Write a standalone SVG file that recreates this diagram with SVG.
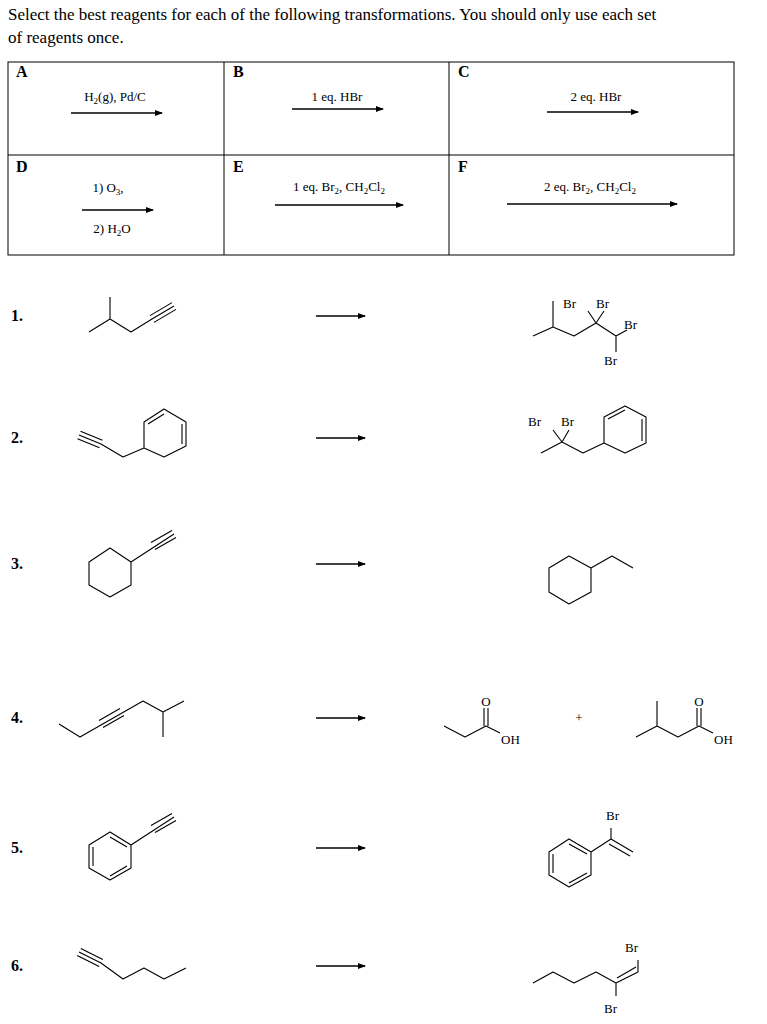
<svg xmlns="http://www.w3.org/2000/svg" width="767" height="1024" viewBox="0 0 767 1024">
<defs>
<marker id="ah" markerWidth="8" markerHeight="6" refX="7" refY="3" orient="auto" markerUnits="userSpaceOnUse"><path d="M0,0 L8,3 L0,6 z" fill="#000"/></marker>
</defs>
<style>
text{font-family:"Liberation Serif","DejaVu Serif",serif;fill:#000}
.h{font-size:17px}
.l{font-size:16px;font-weight:bold}
.r{font-size:13px}
.a{font-size:13px}
.b{stroke:#000;stroke-width:1.1;fill:none;stroke-linejoin:round}
.ar{stroke:#000;stroke-width:1.3;marker-end:url(#ah)}
</style>
<rect width="767" height="1024" fill="#fff"/>
<text class="h" x="8" y="20">Select the best reagents for each of the following transformations. You should only use each set</text>
<text class="h" x="8" y="43">of reagents once.</text>
<g id="table">
<rect x="8" y="62" width="726" height="193" fill="none" stroke="#000" stroke-width="1"/>
<path d="M8 155H734M224 62V255M449 62V255" stroke="#000" stroke-width="1" fill="none"/>
<text class="l" x="16" y="77">A</text><text class="l" x="233" y="77">B</text><text class="l" x="458" y="77">C</text>
<text class="l" x="16" y="172">D</text><text class="l" x="233" y="172">E</text><text class="l" x="458" y="172">F</text>
<text class="r" x="115" y="101" text-anchor="middle">H<tspan font-size="9" dy="3">2</tspan><tspan dy="-3">(g), Pd/C</tspan></text>
<text class="r" x="337" y="101" text-anchor="middle">1 eq. HBr</text>
<text class="r" x="596" y="101" text-anchor="middle">2 eq. HBr</text>
<text class="r" x="108" y="192" text-anchor="middle">1) O<tspan font-size="9" dy="3">3</tspan><tspan dy="-3">,</tspan></text>
<text class="r" x="112" y="233" text-anchor="middle">2) H<tspan font-size="9" dy="3">2</tspan><tspan dy="-3">O</tspan></text>
<text class="r" x="339" y="191" text-anchor="middle">1 eq. Br<tspan font-size="9" dy="3">2</tspan><tspan dy="-3">, CH</tspan><tspan font-size="9" dy="3">2</tspan><tspan dy="-3">Cl</tspan><tspan font-size="9" dy="3">2</tspan></text>
<text class="r" x="590" y="191" text-anchor="middle">2 eq. Br<tspan font-size="9" dy="3">2</tspan><tspan dy="-3">, CH</tspan><tspan font-size="9" dy="3">2</tspan><tspan dy="-3">Cl</tspan><tspan font-size="9" dy="3">2</tspan></text>
</g>
<g id="connectors">
<line class="ar" x1="71" y1="113" x2="162" y2="113"/>
<line class="ar" x1="292" y1="109" x2="383" y2="109"/>
<line class="ar" x1="547" y1="112" x2="638" y2="112"/>
<line class="ar" x1="82" y1="210" x2="153" y2="210"/>
<line class="ar" x1="275" y1="205" x2="403" y2="205"/>
<line class="ar" x1="507" y1="204" x2="677" y2="204"/>
<line class="ar" x1="316" y1="316" x2="365" y2="316"/>
<line class="ar" x1="316" y1="438" x2="365" y2="438"/>
<line class="ar" x1="316" y1="564" x2="365" y2="564"/>
<line class="ar" x1="316" y1="718" x2="365" y2="718"/>
<line class="ar" x1="316" y1="848" x2="365" y2="848"/>
<line class="ar" x1="316" y1="966" x2="365" y2="966"/>
</g>
<g id="numbers">
<text class="l" x="11" y="321" font-size="14">1.</text>
<text class="l" x="11" y="443" font-size="14">2.</text>
<text class="l" x="11" y="569" font-size="14">3.</text>
<text class="l" x="11" y="723" font-size="14">4.</text>
<text class="l" x="11" y="853" font-size="14">5.</text>
<text class="l" x="11" y="971" font-size="14">6.</text>
</g>
<g id="m1">
<path class="b" d="M89 332L110 319L131 332L152 319L174 306M110 319V297M154 322.4L176 309.4M150 315.6L172 302.6"/>
</g>
<g id="p1">
<path class="b" d="M533 336L553 327L574 336L596 323L616 336V352M553 327V301M596 323L588 311M596 323L604 311M616 336L627 330"/>
<text class="a" x="563" y="308">Br</text><text class="a" x="596" y="308">Br</text>
<text class="a" x="624" y="329">Br</text><text class="a" x="604" y="365">Br</text>
</g>
<g id="m2">
<path class="b" d="M79 435L101 444L123 457L144 448V422L164 409L186 422V446L164 457L144 448M77.5 438.7L99.5 447.7M80.5 431.3L102.5 440.3M148 424L164 414M182 424V444"/>
</g>
<g id="p2">
<path class="b" d="M541 453L562 442L583 453L604 443V417L625 406L646 417V443L625 453L604 443M562 442L553 430M562 442L569 430M608 419L625 410M642 419V441"/>
<text class="a" x="528" y="426">Br</text><text class="a" x="561" y="426">Br</text>
</g>
<g id="m3">
<path class="b" d="M89 562L110 548L131 562V585L110 597L89 585Z M131 562L174 534M155 549.4L176 537.4M151 542.6L172 530.6"/>
</g>
<g id="p3">
<path class="b" d="M549 568L569 556L591 568V592L569 604L549 592Z M591 568L612 556L633 568"/>
</g>
<g id="m4">
<path class="b" d="M59 724L80 737L143 701L163 712V737M163 712L184 701M103 727.5L124 715.5M99 720.5L120 708.5"/>
</g>
<g id="p4a">
<path class="b" d="M444 726L465 737L486 726L500 733M484 726V708M488 726V708"/>
<text class="a" x="486" y="706" text-anchor="middle">O</text>
<text class="a" x="501" y="744">OH</text>
</g>
<text class="a" x="579" y="722" text-anchor="middle" fill="#888">+</text>
<g id="p4b">
<path class="b" d="M636 737L657 726L678 737L699 726L713 733M657 726V701M697 726V708M701 726V708"/>
<text class="a" x="699" y="706" text-anchor="middle">O</text>
<text class="a" x="714" y="744">OH</text>
</g>
<g id="m5">
<path class="b" d="M89 845L110 832L131 845V868L110 880L89 868Z M93 847V866M110 837L127 847M127 866L110 876M131 845L174 817M155 832.4L176 820.4M151 825.6L172 813.6"/>
</g>
<g id="p5">
<path class="b" d="M549 852L569 839L591 852V875L569 887L549 875Z M553 854V873M569 844L587 854M587 873L569 883M591 852L611 839L633 852M611 839V828M609 844L630 856"/>
<text class="a" x="606" y="820">Br</text>
</g>
<g id="m6">
<path class="b" d="M79 952L101 963L123 979L144 968L164 979L186 968M77.2 955.6L99.2 966.6M80.8 948.4L102.8 959.4"/>
</g>
<g id="p6">
<path class="b" d="M533 983L553 972L574 983L596 972L616 983L638 972V960M616 983V996M617 978L636 967"/>
<text class="a" x="625" y="952">Br</text><text class="a" x="604" y="1013">Br</text>
</g>
</svg>
